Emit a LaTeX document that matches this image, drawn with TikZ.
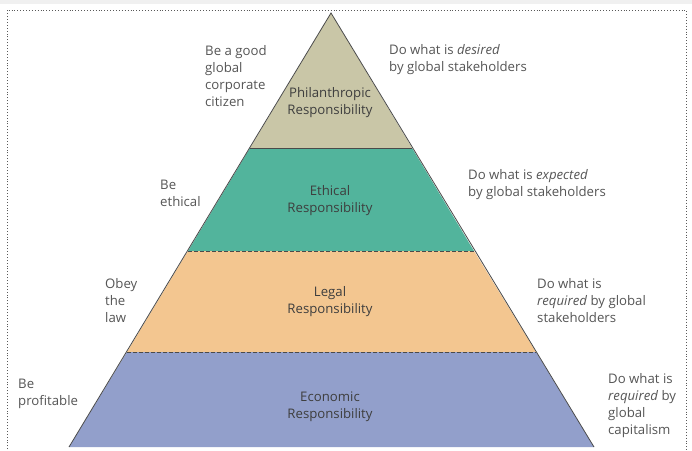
\documentclass[tikz,border=0pt]{standalone}
\usepackage{fontspec}
\setmainfont{Open Sans}
\usepackage{xcolor}
\usepackage{tikz}
\usetikzlibrary{positioning}
\definecolor{philfill}{HTML}{C9C6A7}
\definecolor{ethicfill}{HTML}{52B49C}
\definecolor{legalfill}{HTML}{F3C690}
\definecolor{econfill}{HTML}{929FCB}
\definecolor{labelgray}{HTML}{555555}
\definecolor{layergray}{HTML}{3E3E3E}
\definecolor{edgegray}{HTML}{4A4A4A}

\begin{document}
\begin{tikzpicture}[x=1pt, y=-1pt, every node/.style={font=\fontsize{13.2}{17}\selectfont, inner sep=0pt},
  side/.style={align=left, text=labelgray, anchor=west},
  layer/.style={align=center, text=layergray}]
\useasboundingbox (0,0) rectangle (692,450);
% Frame
\fill[gray!12] (0,0) rectangle (692,4);
\draw[black!65, dotted, line width=0.9pt] (7,452) -- (7,10) -- (686,10) -- (686,452);
% Corners
\coordinate (apex) at (331,13);
\coordinate (phil-l) at (250,148);
\coordinate (phil-r) at (412,148);
\coordinate (ethic-l) at (188,251);
\coordinate (ethic-r) at (474,251);
\coordinate (legal-l) at (127,352);
\coordinate (legal-r) at (536,352);
\coordinate (econ-l) at (69,447);
\coordinate (econ-r) at (594,447);
% Layers
\fill[philfill] (apex) -- (phil-r) -- (phil-l) -- cycle;
\fill[ethicfill] (phil-l) -- (phil-r) -- (ethic-r) -- (ethic-l) -- cycle;
\fill[legalfill] (ethic-l) -- (ethic-r) -- (legal-r) -- (legal-l) -- cycle;
\fill[econfill] (legal-l) -- (legal-r) -- (econ-r) -- (econ-l) -- cycle;
% Edges
\draw[edgegray, line width=0.8pt] (econ-l) -- (apex) -- (econ-r);
\draw[edgegray, line width=0.8pt] (phil-l) -- (phil-r);
\draw[edgegray, line width=0.8pt, dashed, dash pattern=on 4pt off 2pt] (ethic-l) -- (ethic-r);
\draw[edgegray, line width=0.8pt, dashed, dash pattern=on 4pt off 2pt] (legal-l) -- (legal-r);
% Layer labels
\node[layer] (phil) at (330,103) {Philanthropic\\Responsibility};
\node[layer] (ethic) at (330,201) {Ethical\\Responsibility};
\node[layer] (legal) at (330,302) {Legal\\Responsibility};
\node[layer] (econ) at (330,407) {Economic\\Responsibility};
% Left labels
\node[side] (citizen) at (205,76) {Be a good\\global\\corporate\\citizen};
\node[side] (beethical) at (160,193) {Be\\ethical};
\node[side] (obey) at (105,301) {Obey\\the\\law};
\node[side] (profit) at (18,394) {Be\\profitable};
% Right labels
\node[side] (desired) at (389,60) {Do what is \textit{desired}\\by global stakeholders};
\node[side] (expected) at (468,185) {Do what is \textit{expected}\\by global stakeholders};
\node[side] (required) at (537,301) {Do what is\\\textit{required} by global\\stakeholders};
\node[side] (capital) at (608,406) {Do what is\\\textit{required} by\\global\\capitalism};
\end{tikzpicture}
\end{document}
